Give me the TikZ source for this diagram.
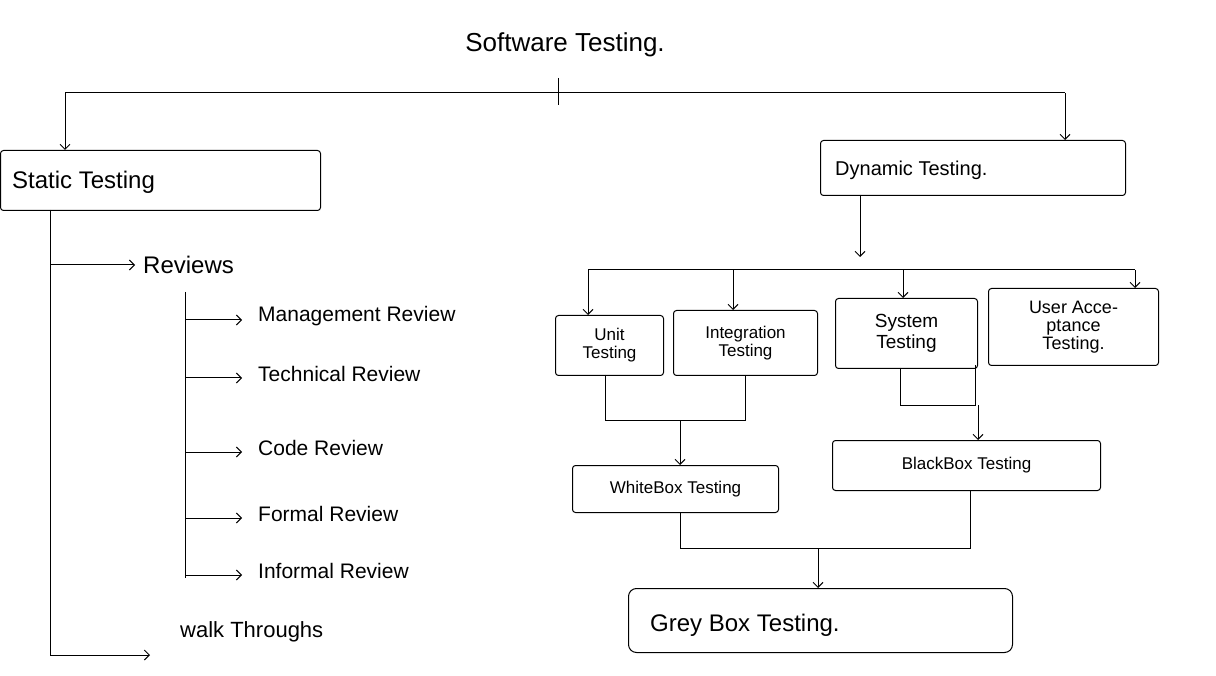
\documentclass[tikz,border=0pt]{standalone}
\usepackage{fontspec}
\setmainfont{Liberation Sans}
\begin{document}
\begin{tikzpicture}[x=1pt,y=-1pt,
  ln/.style={line width=1pt},
  ar/.style={ln,-{Straight Barb[length=5pt]}},
  bx/.style={draw,line width=1pt,rounded corners=3pt,inner sep=0pt},
  tx/.style={font=\fontsize{22}{24}\selectfont,anchor=west,inner sep=0pt},
  sm/.style={font=\fontsize{17}{18}\selectfont,align=center,inner sep=0pt}]
\useasboundingbox[fill=white] (0,0) rectangle (1216,676);
\usetikzlibrary{arrows.meta}
\node[font=\fontsize{26}{28}\selectfont] (sw) at (565,45) {Software Testing.};
\coordinate (hl) at (65,93); \coordinate (hr) at (1065,93);
\draw[ln] (hl) -- (hr);
\draw[ln] (558,78) -- (558,105);
\node[bx,minimum width=320,minimum height=60,anchor=north west] (st) at (0,150) {};
\node[tx,font=\fontsize{24}{26}\selectfont] at (12,182) {Static Testing};
\node[bx,minimum width=305,minimum height=55,anchor=north west] (dt) at (820,140) {};
\node[tx,font=\fontsize{20}{22}\selectfont] at (835,170) {Dynamic Testing.};
\draw[ar] (hl) -- (65,150);
\draw[ar] (hr) -- (1065,140);
% static branch
\coordinate (sv) at (50,210);
\draw[ln] (sv) -- (50,655);
\node[tx,font=\fontsize{24}{26}\selectfont] (rv) at (143,265) {Reviews};
\node[tx] (wt) at (180,632) {walk Throughs};
\draw[ar] (50,265) -- ([xshift=-8pt]rv.west);
\draw[ar] (50,655) -- (150,655);
\draw[ln] (185,292) -- (185,578);
\foreach \y/\t in {320/Management Review,378/Technical Review,452/Code Review,518/Formal Review,575/Informal Review}{
  \node[tx,font=\fontsize{21}{22}\selectfont] at (258,\y-4) {\t};
  \draw[ar] (185,\y) -- (242,\y);
}
% dynamic branch
\draw[ar] (860,195) -- (860,257);
\draw[ln] (588,270) -- (1135,270);
\node[bx,minimum width=108,minimum height=60,anchor=north west] (ut) at (555,315) {};
\node[sm] at (ut) {Unit\\Testing};
\node[bx,minimum width=144,minimum height=65,anchor=north west] (it) at (673,310) {};
\node[sm] at (it) {Integration\\Testing};
\node[bx,minimum width=142,minimum height=70,anchor=north west] (syt) at (835,298) {};
\node[sm,font=\fontsize{19}{21}\selectfont] at (syt) {System\\Testing};
\node[bx,minimum width=170,minimum height=77,anchor=north west] (uat) at (988,288) {};
\node[sm,font=\fontsize{18}{18}\selectfont] at (uat) {User Acce-\\ptance\\Testing.};
\draw[ar] (588,270) -- (ut.north -| 588,0);
\draw[ar] (733,270) -- (733,310);
\draw[ar] (903,270) -- (903,298);
\draw[ar] (1135,270) -- (1135,288);
\node[bx,minimum width=206,minimum height=47,anchor=north west] (wb) at (572,465) {};
\node[sm] at (wb) {WhiteBox Testing};
\node[bx,minimum width=268,minimum height=50,anchor=north west] (bb) at (832,440) {};
\node[sm] at (bb) {BlackBox Testing};
\draw[ln] (605,375) -- (605,420) -- (745,420) -- (745,375);
\draw[ar] (680,420) -- (wb.north -| 680,0);
\draw[ln] (900,368) -- (900,405) -- (975,405) -- (975,365);
\draw[ar] (978,405) -- (bb.north -| 978,0);
\node[bx,rounded corners=8pt,minimum width=384,minimum height=64,anchor=north west] (gb) at (628,588) {};
\node[tx,font=\fontsize{24}{26}\selectfont] at (650,625) {Grey Box Testing.};
\draw[ln] (680,512) -- (680,548) -- (970,548) -- (970,490);
\draw[ar] (818,548) -- (gb.north -| 818,0);
\end{tikzpicture}
\end{document}
